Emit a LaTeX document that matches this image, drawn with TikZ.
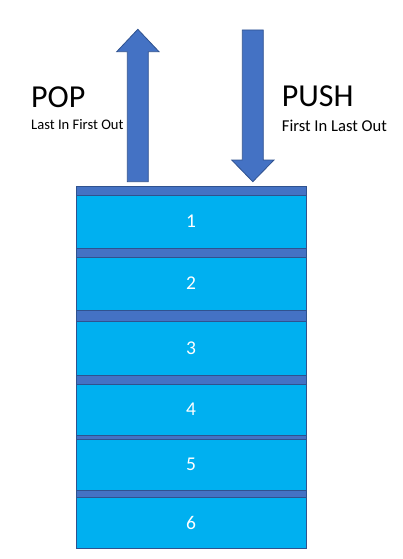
\documentclass[tikz,border=0pt]{standalone}
\usepackage{fontspec}
\setmainfont{Carlito}
\usetikzlibrary{positioning}
\definecolor{barblue}{HTML}{4472C4}
\definecolor{edgeblue}{HTML}{2F528F}
\definecolor{cellcyan}{HTML}{00B0F0}

\begin{document}
\begin{tikzpicture}[x=1pt,y=-1pt,node distance=0pt,
  slab/.style={draw=edgeblue,fill=barblue,line width=1pt,minimum width=230pt,
    inner sep=0pt,outer sep=0pt},
  cell/.style={slab,fill=cellcyan,text=white,font=\fontsize{19.5}{20}\selectfont},
  blockarrow/.style={draw=edgeblue,fill=barblue,line width=0.8pt},
  title/.style={anchor=base west,inner sep=0pt,font=\fontsize{32}{34}\selectfont},
  subtitle/.style={anchor=base west,inner sep=0pt}]
\useasboundingbox (0,0) rectangle (402,559);
  % the stack
  \node[slab,minimum height=9pt,anchor=north west] (b0) at (76,186) {};
  \node[cell,minimum height=53pt] (c1) [below=of b0] {1};
  \node[slab,minimum height=9pt]  (b1) [below=of c1] {};
  \node[cell,minimum height=53pt] (c2) [below=of b1] {2};
  \node[slab,minimum height=11pt] (b2) [below=of c2] {};
  \node[cell,minimum height=54pt] (c3) [below=of b2] {3};
  \node[slab,minimum height=9pt]  (b3) [below=of c3] {};
  \node[cell,minimum height=51pt] (c4) [below=of b3] {4};
  \node[slab,minimum height=4pt]  (b4) [below=of c4] {};
  \node[cell,minimum height=51pt] (c5) [below=of b4] {5};
  \node[slab,minimum height=7pt]  (b5) [below=of c5] {};
  \node[cell,minimum height=51pt] (c6) [below=of b5] {6};
  % pop and push arrows
  \draw[blockarrow] (127.3,181.7) -- (127.3,51.7) -- (116.7,51.7) -- (137.8,29.3)
    -- (159,51.7) -- (148.3,51.7) -- (148.3,181.7) -- cycle;
  \draw[blockarrow] (242.3,30) -- (263.3,30) -- (263.3,160) -- (274,160)
    -- (252.8,181.7) -- (231.7,160) -- (242.3,160) -- cycle;
  % labels
  \node[title] (pop) at (31,107.3) {POP};
  \node[subtitle,font=\fontsize{14.6}{16}\selectfont] (lifo) at (31,129) {Last In First Out};
  \node[title] (push) at (281.7,106.7) {PUSH};
  \node[subtitle,font=\fontsize{16.6}{18}\selectfont] (filo) at (281.7,131.5) {First In Last Out};
\end{tikzpicture}
\end{document}
